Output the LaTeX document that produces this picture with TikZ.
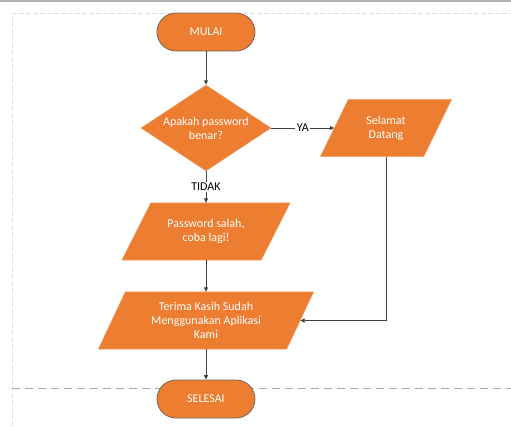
\documentclass[tikz,border=0pt]{standalone}
\usepackage{fontspec}
\setmainfont{Carlito}
\usetikzlibrary{arrows.meta,shapes.geometric,backgrounds}
\definecolor{orng}{HTML}{ED7D31}
\definecolor{termedge}{HTML}{76655A}
\definecolor{paraedge}{HTML}{F2A36E}
\definecolor{linec}{HTML}{404040}
\begin{document}
\begin{tikzpicture}[x=1pt,y=-1pt,
  txt/.style={text=white,font=\fontsize{12}{14.2}\selectfont,align=center},
  term/.style={txt,draw=termedge,line width=0.8pt,fill=orng,rounded corners=19pt,minimum width=98pt,minimum height=38pt,inner sep=0pt},
  dec/.style={txt,diamond,fill=orng,draw=paraedge,line width=0.5pt,minimum width=130pt,minimum height=86pt,aspect=1.51,inner sep=0pt},
  parabox/.style={txt,minimum height=57pt,inner sep=0pt},
  parafill/.style={fill=orng,draw=paraedge,line width=0.5pt},
  arr/.style={draw=linec,line width=0.8pt,-{Triangle[length=4.5pt,width=4pt]}},
  lbl/.style={fill=white,text=black,font=\fontsize{12}{14}\selectfont,inner sep=1.5pt}
]
\useasboundingbox (0,0) rectangle (511,426);
% frame
\draw[color=black!30,line width=1.4pt] (0,1) -- (511,1);
\draw[color=black!13,line width=0.8pt,dash pattern=on 5pt off 2pt] (12,426) -- (12,13) -- (511,13);
\draw[color=black!35,line width=1pt,dash pattern=on 8pt off 5pt] (12,388) -- (511,388);

% nodes
\node[term] (start) at (206,32) {MULAI};
\node[dec] (q) at (206,128) {Apakah password\\benar?};
\node[parabox,minimum width=103pt] (sel) at (386,128) {Selamat\\Datang};
\node[parabox,minimum width=139pt] (pw) at (206,231.5) {Password salah,\\coba lagi!};
\node[parabox,minimum width=188pt] (thx) at (206,320.5) {Terima Kasih Sudah\\Menggunakan Aplikasi\\Kami};
\node[term] (end) at (206,399) {SELESAI};

\begin{scope}[on background layer]
\path[parafill] ([xshift=14pt]sel.north west) -- ([xshift=14pt]sel.north east) -- ([xshift=-14pt]sel.south east) -- ([xshift=-14pt]sel.south west) -- cycle;
\path[parafill] ([xshift=14.5pt]pw.north west) -- ([xshift=14.5pt]pw.north east) -- ([xshift=-14.5pt]pw.south east) -- ([xshift=-14.5pt]pw.south west) -- cycle;
\path[parafill] ([xshift=13.5pt]thx.north west) -- ([xshift=13.5pt]thx.north east) -- ([xshift=-13.5pt]thx.south east) -- ([xshift=-13.5pt]thx.south west) -- cycle;
\end{scope}

% connectors
\draw[arr] (start) -- (q);
\draw[arr] (q) -- node[lbl] {YA} (sel);
\draw[arr] (q) -- node[lbl] {TIDAK} (pw);
\draw[arr] (pw) -- (thx);
\draw[arr] (sel.south) |- (thx.east);
\draw[arr] (thx) -- (end);
\end{tikzpicture}
\end{document}
